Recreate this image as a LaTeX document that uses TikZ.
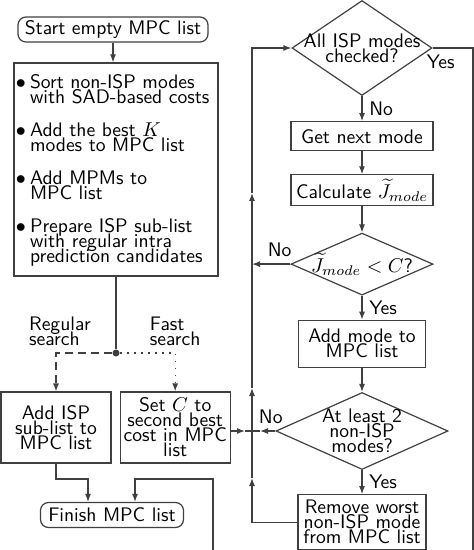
\documentclass[tikz,border=0pt]{standalone}
\usepackage{amsmath}
\usepackage{enumitem}
\usetikzlibrary{arrows.meta,positioning,shapes.geometric}

\newcommand{\chartfont}{\sffamily\fontsize{9.8}{7.5}\selectfont\lineskiplimit=-5pt\relax}

\begin{document}
\begin{tikzpicture}[x=0.5pt, y=-0.5pt, >={Latex[length=4pt,width=3pt]}, auto, semithick, node distance=12.5pt,
		color=black!75, text=black, font=\chartfont,
		box node/.style={rectangle, draw, inner sep=1pt, align=center},
		end node/.style={rectangle, rounded corners=4pt, draw, inner sep=1pt},
		test node/.style={diamond, draw, inner ysep=0pt, align=center},
		fork node/.style={circle, fill, inner sep=0pt, minimum size=3.5pt}]
	\useasboundingbox (0,0) rectangle (474,550);

	% left column
	\node[end node, minimum width=95pt, minimum height=12.5pt] (start) at (113,29.5) {Start empty MPC list};
	\node[box node, text width=98pt, minimum height=106.5pt, inner sep=2pt, align=left] (prep) at (116,169.5) {%
		\begin{itemize}[leftmargin=6pt, labelsep=2pt, itemsep=9pt, parsep=0pt, topsep=0pt, partopsep=0pt, label=$\bullet$]
			\item Sort non-ISP modes\\with SAD-based costs
			\item Add the best $K$\\modes to MPC list
			\item Add MPMs to\\MPC list
			\item Prepare ISP sub-list\\with regular intra\\prediction candidates
		\end{itemize}};
	\node[fork node] (fork) at (116,353) {};
	\node[box node, minimum width=55pt, minimum height=35.5pt] (isp) at (56,427.5) {Add ISP\\sub-list to\\MPC list};
	\node[box node, minimum width=55pt, minimum height=35.5pt, right=4pt of isp] (setc) {Set $C$ to\\second best\\cost in MPC\\list};
	\node[end node, minimum width=71.5pt, minimum height=12.5pt] (finish) at (112,515) {Finish MPC list};

	% right column
	\node[test node, aspect=1.47, inner xsep=-6pt, minimum width=70pt, minimum height=47.5pt] (chk) at (362,48) {All ISP modes\\checked?};
	\node[box node, minimum width=71pt, minimum height=14.5pt, below=of chk] (next) {Get next mode};
	\node[box node, minimum width=71pt, minimum height=15.5pt, below=11.5pt of next] (calc) {Calculate $\widetilde{J}_{mode}$};
	\node[test node, aspect=2.29, inner xsep=-4pt, minimum width=71pt, minimum height=31pt, below=13pt of calc] (jtest) {$\widetilde{J}_{mode} < C$?};
	\node[box node, minimum width=63.5pt, minimum height=23.5pt, below=12pt of jtest] (addm) {Add mode to\\MPC list};
	\node[test node, aspect=2.23, inner xsep=-4pt, minimum width=86pt, minimum height=38.5pt, below=12pt of addm] (least) {At least 2\\non-ISP\\modes?};
	\node[box node, minimum width=64pt, minimum height=27.5pt, below=12pt of least] (worst) {Remove worst\\non-ISP mode\\from MPC list};

	% corner points
	\coordinate (lp1) at (252,478);
	\coordinate (lp2) at (252,388);
	\coordinate (lp3) at (252,193);
	\coordinate (cin) at (245,0);
	\coordinate (nin) at (260,0);
	\coordinate (yr) at (473,48);
	\coordinate (yb) at (473,575);
	\coordinate (ybl) at (213,575);
	\coordinate (fr) at (135,479);
	\coordinate (fl) at (88,479);

	\draw[->] (start.south) -- (start.south |- prep.north);
	\draw (prep) -- (fork);
	\draw[->, dash pattern=on 4pt off 2.5pt] (fork) -- node[above, pos=0.93, align=left] {Regular\\search} (fork -| isp) -- (isp);
	\draw[->, dash pattern=on 0.7pt off 2.8pt] (fork) -- node[above, pos=1, align=left] {Fast\\search} (fork -| setc) -- (setc);
	\draw[->] (isp) |- (fl) -- (fl |- finish.north);

	\path[->]
		(chk) edge node {No} (next)
		(next) edge (calc)
		(calc) edge (jtest)
		(jtest) edge node {Yes} (addm)
		(addm) edge (least)
		(least) edge node {Yes} (worst)
	;

	% loop back to the check
	\draw[->] (worst) -| (lp1);
	\draw[->] (lp1) -- (lp2);
	\draw[->] (lp2) -- (lp3);
	\draw[->] (lp3) |- (chk);
	\draw[->] (jtest) -- node[above, pos=0.28] {No} (lp1 |- jtest);
	\draw[->] (least) -- node[above, pos=0.3] {No} (nin |- least);
	\draw (nin |- least) -- (lp1 |- least);
	\draw[->] (setc.east |- least) -- (cin |- least);
	\draw (cin |- least) -- (lp1 |- least);

	% all modes checked
	\draw[->] (chk.east) -- node[below, pos=0.2] {Yes} (yr) -- (yb) -- (ybl) |- (fr) -- (fr |- finish.north);
\end{tikzpicture}
\end{document}
